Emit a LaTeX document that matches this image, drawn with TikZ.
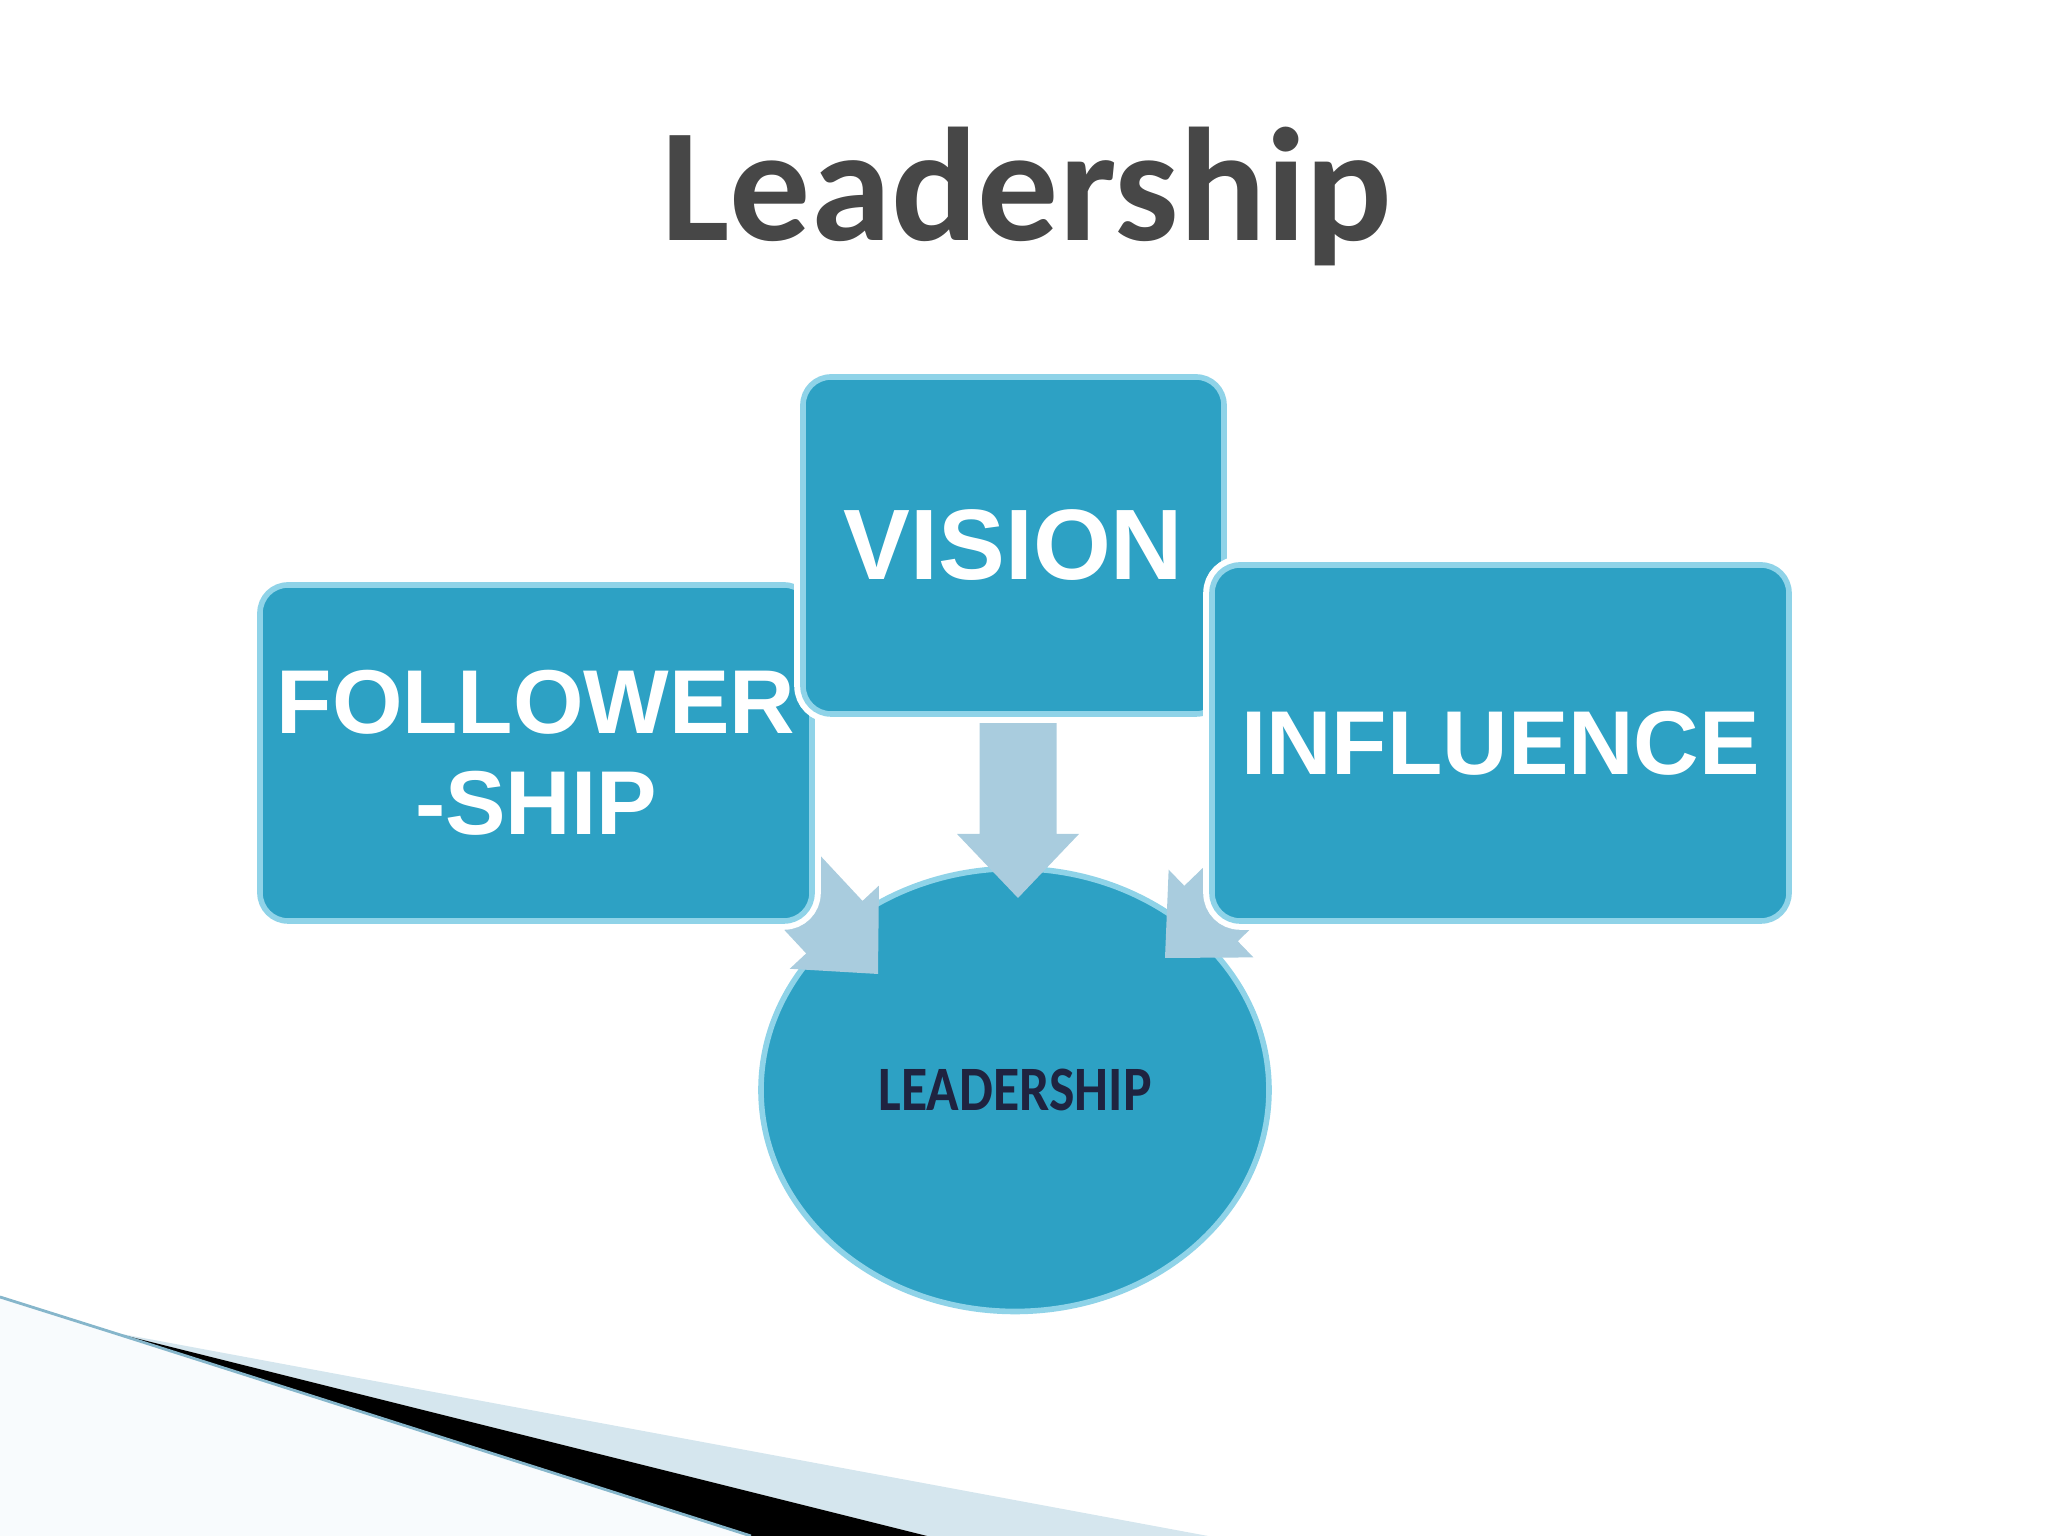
\documentclass[tikz,border=0pt]{standalone}
\usepackage{fontspec}
\newfontfamily\calibri{Carlito}
\newfontfamily\arial{Liberation Sans}
\usetikzlibrary{shapes.geometric}
\definecolor{boxblue}{HTML}{2DA1C4}
\definecolor{boxedge}{HTML}{8FD3E8}
\definecolor{arrowblue}{HTML}{A9CCDE}
\definecolor{titlegray}{HTML}{474747}
\definecolor{navy}{HTML}{1F2340}
\definecolor{paleblue}{HTML}{D5E6EE}
\definecolor{lineblue}{HTML}{86B6CB}
\definecolor{faint}{HTML}{F8FBFD}

\begin{document}
\begin{tikzpicture}[
  card/.style={rectangle, rounded corners=0.28cm, fill=boxblue, draw=boxedge, line width=1.6pt,
    preaction={draw=white, line width=5pt}, text=white, align=center,
    font=\arial\bfseries\fontsize{25.8}{28.7}\selectfont},
  blob/.style={ellipse, fill=boxblue, draw=boxedge, line width=1.6pt,
    preaction={draw=white, line width=5pt}, text=navy,
    font=\calibri\bfseries\fontsize{18}{20}\selectfont}]
\useasboundingbox (0,0) rectangle (20.48,15.36);

% corner decoration
\fill[faint] (0,0) -- (0,2.39) -- (1.11,2.04) -- (7.51,0) -- cycle;
\fill[paleblue] (1.11,2.04) -- (12.08,0) -- (9.27,0) -- cycle;
\fill[black] (1.11,2.04) -- (9.27,0) -- (7.51,0) -- cycle;
\draw[lineblue, line width=0.8pt] (0,2.39) -- (1.11,2.04) -- (7.51,0);

% title
\node[anchor=base, text=titlegray, font=\calibri\bfseries\fontsize{46}{50}\selectfont] (title) at (10.27,12.95) {Leadership};

% centre and arrows
\node[blob, minimum width=5.08cm, minimum height=4.43cm] (lead) at (10.15,4.46) {\scalebox{0.85}[1]{LEADERSHIP}};
\foreach \tx/\ty/\ang in {10.18/6.38/-90, 8.78/5.62/-47, 11.65/5.78/-136}
  \fill[arrowblue, shift={(\tx,\ty)}, rotate=\ang]
    (0,0) -- (-0.64,0.61) -- (-0.64,0.385) -- (-1.76,0.385) -- (-1.76,-0.385) -- (-0.64,-0.385) -- (-0.64,-0.61) -- cycle;

% boxes
\node[card, minimum width=5.52cm, minimum height=3.36cm] (follow) at (5.36,7.83) {FOLLOWER\\-SHIP};
\node[card, minimum width=4.21cm, minimum height=3.37cm, font=\arial\bfseries\fontsize{28.5}{30}\selectfont] (vision) at (10.135,9.905) {VISION};
\node[card, minimum width=5.77cm, minimum height=3.56cm] (influence) at (15.005,7.93) {INFLUENCE};
\end{tikzpicture}
\end{document}
